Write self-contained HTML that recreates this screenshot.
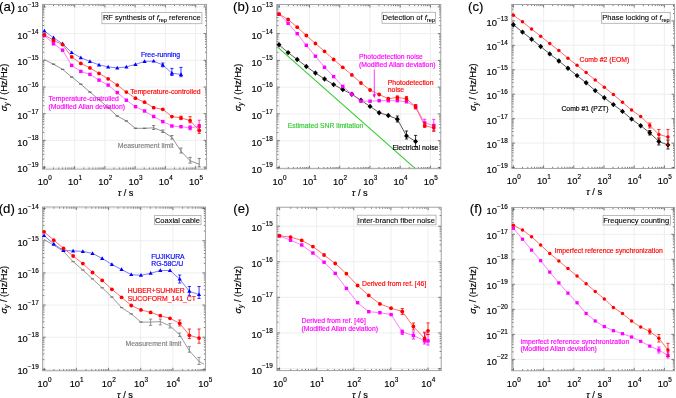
<!DOCTYPE html>
<html><head><meta charset="utf-8"><style>html,body{margin:0;padding:0;background:#fff;}svg{display:block;}</style></head>
<body><svg style="will-change:transform" width="676" height="398" viewBox="0 0 676 398">
<rect width="676" height="398" fill="#fff"/>
<path d="M44.4 4.4V169.1M74.65 4.4V169.1M104.9 4.4V169.1M135.15 4.4V169.1M165.4 4.4V169.1M195.65 4.4V169.1M42.6 167.1H206.6M42.6 140.4H206.6M42.6 113.7H206.6M42.6 87H206.6M42.6 60.3H206.6M42.6 33.6H206.6M42.6 6.9H206.6" stroke="#ececec" stroke-width="0.9" fill="none"/>
<path d="M43.02 169.1v-1.6M43.02 4.4v1.6M44.4 169.1v-3M44.4 4.4v3M53.51 169.1v-1.6M53.51 4.4v1.6M58.83 169.1v-1.6M58.83 4.4v1.6M62.61 169.1v-1.6M62.61 4.4v1.6M65.54 169.1v-1.6M65.54 4.4v1.6M67.94 169.1v-1.6M67.94 4.4v1.6M69.96 169.1v-1.6M69.96 4.4v1.6M71.72 169.1v-1.6M71.72 4.4v1.6M73.27 169.1v-1.6M73.27 4.4v1.6M74.65 169.1v-3M74.65 4.4v3M83.76 169.1v-1.6M83.76 4.4v1.6M89.08 169.1v-1.6M89.08 4.4v1.6M92.86 169.1v-1.6M92.86 4.4v1.6M95.79 169.1v-1.6M95.79 4.4v1.6M98.19 169.1v-1.6M98.19 4.4v1.6M100.21 169.1v-1.6M100.21 4.4v1.6M101.97 169.1v-1.6M101.97 4.4v1.6M103.52 169.1v-1.6M103.52 4.4v1.6M104.9 169.1v-3M104.9 4.4v3M114.01 169.1v-1.6M114.01 4.4v1.6M119.33 169.1v-1.6M119.33 4.4v1.6M123.11 169.1v-1.6M123.11 4.4v1.6M126.04 169.1v-1.6M126.04 4.4v1.6M128.44 169.1v-1.6M128.44 4.4v1.6M130.46 169.1v-1.6M130.46 4.4v1.6M132.22 169.1v-1.6M132.22 4.4v1.6M133.77 169.1v-1.6M133.77 4.4v1.6M135.15 169.1v-3M135.15 4.4v3M144.26 169.1v-1.6M144.26 4.4v1.6M149.58 169.1v-1.6M149.58 4.4v1.6M153.36 169.1v-1.6M153.36 4.4v1.6M156.29 169.1v-1.6M156.29 4.4v1.6M158.69 169.1v-1.6M158.69 4.4v1.6M160.71 169.1v-1.6M160.71 4.4v1.6M162.47 169.1v-1.6M162.47 4.4v1.6M164.02 169.1v-1.6M164.02 4.4v1.6M165.4 169.1v-3M165.4 4.4v3M174.51 169.1v-1.6M174.51 4.4v1.6M179.83 169.1v-1.6M179.83 4.4v1.6M183.61 169.1v-1.6M183.61 4.4v1.6M186.54 169.1v-1.6M186.54 4.4v1.6M188.94 169.1v-1.6M188.94 4.4v1.6M190.96 169.1v-1.6M190.96 4.4v1.6M192.72 169.1v-1.6M192.72 4.4v1.6M194.27 169.1v-1.6M194.27 4.4v1.6M195.65 169.1v-3M195.65 4.4v3M204.76 169.1v-1.6M204.76 4.4v1.6M42.6 168.32h1.6M206.6 168.32h-1.6M42.6 167.1h3M206.6 167.1h-3M42.6 159.06h1.6M206.6 159.06h-1.6M42.6 154.36h1.6M206.6 154.36h-1.6M42.6 151.02h1.6M206.6 151.02h-1.6M42.6 148.44h1.6M206.6 148.44h-1.6M42.6 146.32h1.6M206.6 146.32h-1.6M42.6 144.54h1.6M206.6 144.54h-1.6M42.6 142.99h1.6M206.6 142.99h-1.6M42.6 141.62h1.6M206.6 141.62h-1.6M42.6 140.4h3M206.6 140.4h-3M42.6 132.36h1.6M206.6 132.36h-1.6M42.6 127.66h1.6M206.6 127.66h-1.6M42.6 124.32h1.6M206.6 124.32h-1.6M42.6 121.74h1.6M206.6 121.74h-1.6M42.6 119.62h1.6M206.6 119.62h-1.6M42.6 117.84h1.6M206.6 117.84h-1.6M42.6 116.29h1.6M206.6 116.29h-1.6M42.6 114.92h1.6M206.6 114.92h-1.6M42.6 113.7h3M206.6 113.7h-3M42.6 105.66h1.6M206.6 105.66h-1.6M42.6 100.96h1.6M206.6 100.96h-1.6M42.6 97.62h1.6M206.6 97.62h-1.6M42.6 95.04h1.6M206.6 95.04h-1.6M42.6 92.92h1.6M206.6 92.92h-1.6M42.6 91.14h1.6M206.6 91.14h-1.6M42.6 89.59h1.6M206.6 89.59h-1.6M42.6 88.22h1.6M206.6 88.22h-1.6M42.6 87h3M206.6 87h-3M42.6 78.96h1.6M206.6 78.96h-1.6M42.6 74.26h1.6M206.6 74.26h-1.6M42.6 70.92h1.6M206.6 70.92h-1.6M42.6 68.34h1.6M206.6 68.34h-1.6M42.6 66.22h1.6M206.6 66.22h-1.6M42.6 64.44h1.6M206.6 64.44h-1.6M42.6 62.89h1.6M206.6 62.89h-1.6M42.6 61.52h1.6M206.6 61.52h-1.6M42.6 60.3h3M206.6 60.3h-3M42.6 52.26h1.6M206.6 52.26h-1.6M42.6 47.56h1.6M206.6 47.56h-1.6M42.6 44.22h1.6M206.6 44.22h-1.6M42.6 41.64h1.6M206.6 41.64h-1.6M42.6 39.52h1.6M206.6 39.52h-1.6M42.6 37.74h1.6M206.6 37.74h-1.6M42.6 36.19h1.6M206.6 36.19h-1.6M42.6 34.82h1.6M206.6 34.82h-1.6M42.6 33.6h3M206.6 33.6h-3M42.6 25.56h1.6M206.6 25.56h-1.6M42.6 20.86h1.6M206.6 20.86h-1.6M42.6 17.52h1.6M206.6 17.52h-1.6M42.6 14.94h1.6M206.6 14.94h-1.6M42.6 12.82h1.6M206.6 12.82h-1.6M42.6 11.04h1.6M206.6 11.04h-1.6M42.6 9.49h1.6M206.6 9.49h-1.6M42.6 8.12h1.6M206.6 8.12h-1.6M42.6 6.9h3M206.6 6.9h-3" stroke="#444" stroke-width="0.7" fill="none"/>
<rect x="42.6" y="4.4" width="164" height="164.7" fill="none" stroke="#999" stroke-width="0.9"/>
<text x="38.6" y="12" font-family="Liberation Sans, sans-serif" font-size="9.4" text-anchor="end" fill="#000" stroke="#000" stroke-width="0.15">10<tspan dy="-5.1" font-size="6.4">&#8722;13</tspan></text>
<text x="38.6" y="38.7" font-family="Liberation Sans, sans-serif" font-size="9.4" text-anchor="end" fill="#000" stroke="#000" stroke-width="0.15">10<tspan dy="-5.1" font-size="6.4">&#8722;14</tspan></text>
<text x="38.6" y="65.4" font-family="Liberation Sans, sans-serif" font-size="9.4" text-anchor="end" fill="#000" stroke="#000" stroke-width="0.15">10<tspan dy="-5.1" font-size="6.4">&#8722;15</tspan></text>
<text x="38.6" y="92.1" font-family="Liberation Sans, sans-serif" font-size="9.4" text-anchor="end" fill="#000" stroke="#000" stroke-width="0.15">10<tspan dy="-5.1" font-size="6.4">&#8722;16</tspan></text>
<text x="38.6" y="118.8" font-family="Liberation Sans, sans-serif" font-size="9.4" text-anchor="end" fill="#000" stroke="#000" stroke-width="0.15">10<tspan dy="-5.1" font-size="6.4">&#8722;17</tspan></text>
<text x="38.6" y="145.5" font-family="Liberation Sans, sans-serif" font-size="9.4" text-anchor="end" fill="#000" stroke="#000" stroke-width="0.15">10<tspan dy="-5.1" font-size="6.4">&#8722;18</tspan></text>
<text x="38.6" y="172.2" font-family="Liberation Sans, sans-serif" font-size="9.4" text-anchor="end" fill="#000" stroke="#000" stroke-width="0.15">10<tspan dy="-5.1" font-size="6.4">&#8722;19</tspan></text>
<text x="37.7" y="185.1" font-family="Liberation Sans, sans-serif" font-size="9.4" fill="#000" stroke="#000" stroke-width="0.15">10<tspan dy="-5.0" font-size="6.4">0</tspan></text>
<text x="67.95" y="185.1" font-family="Liberation Sans, sans-serif" font-size="9.4" fill="#000" stroke="#000" stroke-width="0.15">10<tspan dy="-5.0" font-size="6.4">1</tspan></text>
<text x="98.2" y="185.1" font-family="Liberation Sans, sans-serif" font-size="9.4" fill="#000" stroke="#000" stroke-width="0.15">10<tspan dy="-5.0" font-size="6.4">2</tspan></text>
<text x="128.45" y="185.1" font-family="Liberation Sans, sans-serif" font-size="9.4" fill="#000" stroke="#000" stroke-width="0.15">10<tspan dy="-5.0" font-size="6.4">3</tspan></text>
<text x="158.7" y="185.1" font-family="Liberation Sans, sans-serif" font-size="9.4" fill="#000" stroke="#000" stroke-width="0.15">10<tspan dy="-5.0" font-size="6.4">4</tspan></text>
<text x="188.95" y="185.1" font-family="Liberation Sans, sans-serif" font-size="9.4" fill="#000" stroke="#000" stroke-width="0.15">10<tspan dy="-5.0" font-size="6.4">5</tspan></text>
<text x="125.6" y="196.1" font-family="Liberation Sans, sans-serif" font-size="9.3" text-anchor="middle" fill="#000" stroke="#000" stroke-width="0.18"><tspan font-style="italic">&#964;</tspan> / s</text>
<text transform="translate(6.8 87.55) rotate(-90)" font-family="Liberation Sans, sans-serif" font-size="9.2" text-anchor="middle" fill="#000" stroke="#000" stroke-width="0.18"><tspan font-style="italic">&#963;</tspan><tspan font-size="6.6" dy="2.4" font-style="italic">y</tspan><tspan dy="-2.4"> / (Hz/Hz)</tspan></text>
<text x="-1" y="10.8" font-family="Liberation Sans, sans-serif" font-size="13.2" fill="#000" stroke="#000" stroke-width="0.15">(a)</text>
<path d="M44.4 59.6 L53.51 64.2 L62.61 69.4 L71.72 77 L80.82 84.2 L89.93 92.1 L99.04 99.7 L108.14 107.7 L117.25 116 L126.36 121 L135.46 128.3 L144.57 128.3 L153.67 127.8 L162.78 131.3 L171.89 137.4 L180.99 151.2 L190.1 160.8 L199.2 164.2" stroke="#777" stroke-width="0.8" fill="none"/>
<path d="M53.51 64.2V64.2M51.91 64.2h3.2M51.91 64.2h3.2M62.61 69.4V69.4M61.01 69.4h3.2M61.01 69.4h3.2M71.72 77V77M70.12 77h3.2M70.12 77h3.2M80.82 84.2V84.2M79.22 84.2h3.2M79.22 84.2h3.2M89.93 92.1V92.1M88.33 92.1h3.2M88.33 92.1h3.2M99.04 99.7V99.7M97.44 99.7h3.2M97.44 99.7h3.2M108.14 107.7V107.7M106.54 107.7h3.2M106.54 107.7h3.2M117.25 116V116M115.65 116h3.2M115.65 116h3.2M126.36 121V121M124.76 121h3.2M124.76 121h3.2M135.46 128.3V128.3M133.86 128.3h3.2M133.86 128.3h3.2M144.57 128.3V128.3M142.97 128.3h3.2M142.97 128.3h3.2M153.67 125.5V129.5M152.07 125.5h3.2M152.07 129.5h3.2M162.78 130V132.5M161.18 130h3.2M161.18 132.5h3.2M171.89 135.5V139M170.29 135.5h3.2M170.29 139h3.2M180.99 148V153M179.39 148h3.2M179.39 153h3.2M190.1 157.4V163.1M188.5 157.4h3.2M188.5 163.1h3.2M199.2 158.4V166.9M197.6 158.4h3.2M197.6 166.9h3.2" stroke="#666" stroke-width="0.8" fill="none"/>
<path d="M44.4 35.5 L53.51 43.8 L62.61 50.2 L71.72 65.4 L80.82 71.4 L89.93 74.4 L99.04 80.1 L108.14 85.1 L117.25 92.6 L126.36 100.2 L135.46 106.7 L144.57 111 L153.67 116.5 L162.78 121.6 L171.89 126 L180.99 126.7 L190.1 127.8 L199.2 126.3" stroke="#ff5cff" stroke-width="0.8" fill="none"/>
<path d="M190.1 125.8V129.8M188.5 125.8h3.2M188.5 129.8h3.2M199.2 120.2V131.6M197.6 120.2h3.2M197.6 131.6h3.2" stroke="#ff00ff" stroke-width="0.8" fill="none"/>
<g fill="#ff00ff"><rect x="42.69" y="33.79" width="3.42" height="3.42"/><rect x="51.8" y="42.09" width="3.42" height="3.42"/><rect x="60.9" y="48.49" width="3.42" height="3.42"/><rect x="70.01" y="63.69" width="3.42" height="3.42"/><rect x="79.11" y="69.69" width="3.42" height="3.42"/><rect x="88.22" y="72.69" width="3.42" height="3.42"/><rect x="97.33" y="78.39" width="3.42" height="3.42"/><rect x="106.43" y="83.39" width="3.42" height="3.42"/><rect x="115.54" y="90.89" width="3.42" height="3.42"/><rect x="124.65" y="98.49" width="3.42" height="3.42"/><rect x="133.75" y="104.99" width="3.42" height="3.42"/><rect x="142.86" y="109.29" width="3.42" height="3.42"/><rect x="151.96" y="114.79" width="3.42" height="3.42"/><rect x="161.07" y="119.89" width="3.42" height="3.42"/><rect x="170.18" y="124.29" width="3.42" height="3.42"/><rect x="179.28" y="124.99" width="3.42" height="3.42"/><rect x="188.39" y="126.09" width="3.42" height="3.42"/><rect x="197.49" y="124.59" width="3.42" height="3.42"/></g>
<path d="M44.4 31 L53.51 37.8 L62.61 43.8 L71.72 52.6 L80.82 57.7 L89.93 61.4 L99.04 64.9 L108.14 66.9 L117.25 67.9 L126.36 66.9 L135.46 64.4 L144.57 61.4 L153.67 61.1 L162.78 64.9 L171.89 73.2 L180.99 74.4" stroke="#5c5cff" stroke-width="0.8" fill="none"/>
<path d="M162.78 63V66.8M161.18 63h3.2M161.18 66.8h3.2M171.89 68.4V75.5M170.29 68.4h3.2M170.29 75.5h3.2M180.99 67.4V76.7M179.39 67.4h3.2M179.39 76.7h3.2" stroke="#0000ff" stroke-width="0.8" fill="none"/>
<g fill="#0000ff"><path d="M44.4 28.81L46.5 32.49H42.3Z"/><path d="M53.51 35.61L55.61 39.29H51.41Z"/><path d="M62.61 41.61L64.71 45.29H60.51Z"/><path d="M71.72 50.41L73.82 54.09H69.62Z"/><path d="M80.82 55.51L82.92 59.19H78.72Z"/><path d="M89.93 59.21L92.03 62.89H87.83Z"/><path d="M99.04 62.71L101.14 66.39H96.94Z"/><path d="M108.14 64.71L110.24 68.39H106.04Z"/><path d="M117.25 65.71L119.35 69.39H115.15Z"/><path d="M126.36 64.71L128.46 68.39H124.26Z"/><path d="M135.46 62.21L137.56 65.89H133.36Z"/><path d="M144.57 59.21L146.67 62.89H142.47Z"/><path d="M153.67 58.91L155.77 62.59H151.57Z"/><path d="M162.78 62.71L164.88 66.39H160.68Z"/><path d="M171.89 71.01L173.99 74.69H169.79Z"/><path d="M180.99 72.21L183.09 75.89H178.89Z"/></g>
<path d="M44.4 34.8 L53.51 40.4 L62.61 44.6 L71.72 56.9 L80.82 63.4 L89.93 67.9 L99.04 73.4 L108.14 78.8 L117.25 85.1 L126.36 92.1 L135.46 98.2 L144.57 102.2 L153.67 107.7 L162.78 109.3 L171.89 116.6 L180.99 117.9 L190.1 120.6 L199.2 130.3" stroke="#ff4a4a" stroke-width="0.8" fill="none"/>
<path d="M180.99 116.2V119.6M179.39 116.2h3.2M179.39 119.6h3.2M190.1 116.7V122.8M188.5 116.7h3.2M188.5 122.8h3.2M199.2 124.6V133.4M197.6 124.6h3.2M197.6 133.4h3.2" stroke="#ff0000" stroke-width="0.8" fill="none"/>
<g fill="#ff0000"><circle cx="44.4" cy="34.8" r="1.89"/><circle cx="53.51" cy="40.4" r="1.89"/><circle cx="62.61" cy="44.6" r="1.89"/><circle cx="71.72" cy="56.9" r="1.89"/><circle cx="80.82" cy="63.4" r="1.89"/><circle cx="89.93" cy="67.9" r="1.89"/><circle cx="99.04" cy="73.4" r="1.89"/><circle cx="108.14" cy="78.8" r="1.89"/><circle cx="117.25" cy="85.1" r="1.89"/><circle cx="126.36" cy="92.1" r="1.89"/><circle cx="135.46" cy="98.2" r="1.89"/><circle cx="144.57" cy="102.2" r="1.89"/><circle cx="153.67" cy="107.7" r="1.89"/><circle cx="162.78" cy="109.3" r="1.89"/><circle cx="171.89" cy="116.6" r="1.89"/><circle cx="180.99" cy="117.9" r="1.89"/><circle cx="190.1" cy="120.6" r="1.89"/><circle cx="199.2" cy="130.3" r="1.89"/></g>
<rect x="101.9" y="12.4" width="100" height="11.3" fill="#fff" stroke="#aaa" stroke-width="0.8"/>
<text x="102.9" y="20.2" font-family="Liberation Sans, sans-serif" font-size="7.5" fill="#000" stroke="#000" stroke-width="0.1">RF synthesis of <tspan font-style="italic">f</tspan><tspan font-size="5.6" dy="2" stroke-width="0.08">rep</tspan><tspan dy="-2"> reference</tspan></text>
<text x="140.9" y="57.4" font-family="Liberation Sans, sans-serif" font-size="6.85" fill="#0000ff" stroke="#0000ff" stroke-width="0.16" text-anchor="start">Free-running</text>
<text x="130.2" y="93.5" font-family="Liberation Sans, sans-serif" font-size="6.85" fill="#ff0000" stroke="#ff0000" stroke-width="0.16" text-anchor="start">Temperature-controlled</text>
<text x="48.5" y="101.4" font-family="Liberation Sans, sans-serif" font-size="6.85" fill="#ff00ff" stroke="#ff00ff" stroke-width="0.16" text-anchor="start">Temperature-controlled</text>
<text x="48.5" y="108.6" font-family="Liberation Sans, sans-serif" font-size="6.85" fill="#ff00ff" stroke="#ff00ff" stroke-width="0.16" text-anchor="start">(Modified Allan deviation)</text>
<text x="117.7" y="148.1" font-family="Liberation Sans, sans-serif" font-size="6.85" fill="#808080" stroke="#808080" stroke-width="0.16" text-anchor="start">Measurement limit</text>
<path d="M279.2 4.5V168.7M309.45 4.5V168.7M339.7 4.5V168.7M369.95 4.5V168.7M400.2 4.5V168.7M430.45 4.5V168.7M276.8 167.4H440.8M276.8 140.65H440.8M276.8 113.9H440.8M276.8 87.15H440.8M276.8 60.4H440.8M276.8 33.65H440.8M276.8 6.9H440.8" stroke="#ececec" stroke-width="0.9" fill="none"/>
<path d="M277.82 168.7v-1.6M277.82 4.5v1.6M279.2 168.7v-3M279.2 4.5v3M288.31 168.7v-1.6M288.31 4.5v1.6M293.63 168.7v-1.6M293.63 4.5v1.6M297.41 168.7v-1.6M297.41 4.5v1.6M300.34 168.7v-1.6M300.34 4.5v1.6M302.74 168.7v-1.6M302.74 4.5v1.6M304.76 168.7v-1.6M304.76 4.5v1.6M306.52 168.7v-1.6M306.52 4.5v1.6M308.07 168.7v-1.6M308.07 4.5v1.6M309.45 168.7v-3M309.45 4.5v3M318.56 168.7v-1.6M318.56 4.5v1.6M323.88 168.7v-1.6M323.88 4.5v1.6M327.66 168.7v-1.6M327.66 4.5v1.6M330.59 168.7v-1.6M330.59 4.5v1.6M332.99 168.7v-1.6M332.99 4.5v1.6M335.01 168.7v-1.6M335.01 4.5v1.6M336.77 168.7v-1.6M336.77 4.5v1.6M338.32 168.7v-1.6M338.32 4.5v1.6M339.7 168.7v-3M339.7 4.5v3M348.81 168.7v-1.6M348.81 4.5v1.6M354.13 168.7v-1.6M354.13 4.5v1.6M357.91 168.7v-1.6M357.91 4.5v1.6M360.84 168.7v-1.6M360.84 4.5v1.6M363.24 168.7v-1.6M363.24 4.5v1.6M365.26 168.7v-1.6M365.26 4.5v1.6M367.02 168.7v-1.6M367.02 4.5v1.6M368.57 168.7v-1.6M368.57 4.5v1.6M369.95 168.7v-3M369.95 4.5v3M379.06 168.7v-1.6M379.06 4.5v1.6M384.38 168.7v-1.6M384.38 4.5v1.6M388.16 168.7v-1.6M388.16 4.5v1.6M391.09 168.7v-1.6M391.09 4.5v1.6M393.49 168.7v-1.6M393.49 4.5v1.6M395.51 168.7v-1.6M395.51 4.5v1.6M397.27 168.7v-1.6M397.27 4.5v1.6M398.82 168.7v-1.6M398.82 4.5v1.6M400.2 168.7v-3M400.2 4.5v3M409.31 168.7v-1.6M409.31 4.5v1.6M414.63 168.7v-1.6M414.63 4.5v1.6M418.41 168.7v-1.6M418.41 4.5v1.6M421.34 168.7v-1.6M421.34 4.5v1.6M423.74 168.7v-1.6M423.74 4.5v1.6M425.76 168.7v-1.6M425.76 4.5v1.6M427.52 168.7v-1.6M427.52 4.5v1.6M429.07 168.7v-1.6M429.07 4.5v1.6M430.45 168.7v-3M430.45 4.5v3M439.56 168.7v-1.6M439.56 4.5v1.6M276.8 168.62h1.6M440.8 168.62h-1.6M276.8 167.4h3M440.8 167.4h-3M276.8 159.35h1.6M440.8 159.35h-1.6M276.8 154.64h1.6M440.8 154.64h-1.6M276.8 151.29h1.6M440.8 151.29h-1.6M276.8 148.7h1.6M440.8 148.7h-1.6M276.8 146.58h1.6M440.8 146.58h-1.6M276.8 144.79h1.6M440.8 144.79h-1.6M276.8 143.24h1.6M440.8 143.24h-1.6M276.8 141.87h1.6M440.8 141.87h-1.6M276.8 140.65h3M440.8 140.65h-3M276.8 132.6h1.6M440.8 132.6h-1.6M276.8 127.89h1.6M440.8 127.89h-1.6M276.8 124.54h1.6M440.8 124.54h-1.6M276.8 121.95h1.6M440.8 121.95h-1.6M276.8 119.83h1.6M440.8 119.83h-1.6M276.8 118.04h1.6M440.8 118.04h-1.6M276.8 116.49h1.6M440.8 116.49h-1.6M276.8 115.12h1.6M440.8 115.12h-1.6M276.8 113.9h3M440.8 113.9h-3M276.8 105.85h1.6M440.8 105.85h-1.6M276.8 101.14h1.6M440.8 101.14h-1.6M276.8 97.79h1.6M440.8 97.79h-1.6M276.8 95.2h1.6M440.8 95.2h-1.6M276.8 93.08h1.6M440.8 93.08h-1.6M276.8 91.29h1.6M440.8 91.29h-1.6M276.8 89.74h1.6M440.8 89.74h-1.6M276.8 88.37h1.6M440.8 88.37h-1.6M276.8 87.15h3M440.8 87.15h-3M276.8 79.1h1.6M440.8 79.1h-1.6M276.8 74.39h1.6M440.8 74.39h-1.6M276.8 71.04h1.6M440.8 71.04h-1.6M276.8 68.45h1.6M440.8 68.45h-1.6M276.8 66.33h1.6M440.8 66.33h-1.6M276.8 64.54h1.6M440.8 64.54h-1.6M276.8 62.99h1.6M440.8 62.99h-1.6M276.8 61.62h1.6M440.8 61.62h-1.6M276.8 60.4h3M440.8 60.4h-3M276.8 52.35h1.6M440.8 52.35h-1.6M276.8 47.64h1.6M440.8 47.64h-1.6M276.8 44.29h1.6M440.8 44.29h-1.6M276.8 41.7h1.6M440.8 41.7h-1.6M276.8 39.58h1.6M440.8 39.58h-1.6M276.8 37.79h1.6M440.8 37.79h-1.6M276.8 36.24h1.6M440.8 36.24h-1.6M276.8 34.87h1.6M440.8 34.87h-1.6M276.8 33.65h3M440.8 33.65h-3M276.8 25.6h1.6M440.8 25.6h-1.6M276.8 20.89h1.6M440.8 20.89h-1.6M276.8 17.54h1.6M440.8 17.54h-1.6M276.8 14.95h1.6M440.8 14.95h-1.6M276.8 12.83h1.6M440.8 12.83h-1.6M276.8 11.04h1.6M440.8 11.04h-1.6M276.8 9.49h1.6M440.8 9.49h-1.6M276.8 8.12h1.6M440.8 8.12h-1.6M276.8 6.9h3M440.8 6.9h-3" stroke="#444" stroke-width="0.7" fill="none"/>
<rect x="276.8" y="4.5" width="164" height="164.2" fill="none" stroke="#999" stroke-width="0.9"/>
<text x="272.8" y="12" font-family="Liberation Sans, sans-serif" font-size="9.4" text-anchor="end" fill="#000" stroke="#000" stroke-width="0.15">10<tspan dy="-5.1" font-size="6.4">&#8722;13</tspan></text>
<text x="272.8" y="38.75" font-family="Liberation Sans, sans-serif" font-size="9.4" text-anchor="end" fill="#000" stroke="#000" stroke-width="0.15">10<tspan dy="-5.1" font-size="6.4">&#8722;14</tspan></text>
<text x="272.8" y="65.5" font-family="Liberation Sans, sans-serif" font-size="9.4" text-anchor="end" fill="#000" stroke="#000" stroke-width="0.15">10<tspan dy="-5.1" font-size="6.4">&#8722;15</tspan></text>
<text x="272.8" y="92.25" font-family="Liberation Sans, sans-serif" font-size="9.4" text-anchor="end" fill="#000" stroke="#000" stroke-width="0.15">10<tspan dy="-5.1" font-size="6.4">&#8722;16</tspan></text>
<text x="272.8" y="119" font-family="Liberation Sans, sans-serif" font-size="9.4" text-anchor="end" fill="#000" stroke="#000" stroke-width="0.15">10<tspan dy="-5.1" font-size="6.4">&#8722;17</tspan></text>
<text x="272.8" y="145.75" font-family="Liberation Sans, sans-serif" font-size="9.4" text-anchor="end" fill="#000" stroke="#000" stroke-width="0.15">10<tspan dy="-5.1" font-size="6.4">&#8722;18</tspan></text>
<text x="272.8" y="172.5" font-family="Liberation Sans, sans-serif" font-size="9.4" text-anchor="end" fill="#000" stroke="#000" stroke-width="0.15">10<tspan dy="-5.1" font-size="6.4">&#8722;19</tspan></text>
<text x="272.5" y="184.7" font-family="Liberation Sans, sans-serif" font-size="9.4" fill="#000" stroke="#000" stroke-width="0.15">10<tspan dy="-5.0" font-size="6.4">0</tspan></text>
<text x="302.75" y="184.7" font-family="Liberation Sans, sans-serif" font-size="9.4" fill="#000" stroke="#000" stroke-width="0.15">10<tspan dy="-5.0" font-size="6.4">1</tspan></text>
<text x="333" y="184.7" font-family="Liberation Sans, sans-serif" font-size="9.4" fill="#000" stroke="#000" stroke-width="0.15">10<tspan dy="-5.0" font-size="6.4">2</tspan></text>
<text x="363.25" y="184.7" font-family="Liberation Sans, sans-serif" font-size="9.4" fill="#000" stroke="#000" stroke-width="0.15">10<tspan dy="-5.0" font-size="6.4">3</tspan></text>
<text x="393.5" y="184.7" font-family="Liberation Sans, sans-serif" font-size="9.4" fill="#000" stroke="#000" stroke-width="0.15">10<tspan dy="-5.0" font-size="6.4">4</tspan></text>
<text x="423.75" y="184.7" font-family="Liberation Sans, sans-serif" font-size="9.4" fill="#000" stroke="#000" stroke-width="0.15">10<tspan dy="-5.0" font-size="6.4">5</tspan></text>
<text x="359.8" y="195.7" font-family="Liberation Sans, sans-serif" font-size="9.3" text-anchor="middle" fill="#000" stroke="#000" stroke-width="0.18"><tspan font-style="italic">&#964;</tspan> / s</text>
<text transform="translate(240.5 87.4) rotate(-90)" font-family="Liberation Sans, sans-serif" font-size="9.2" text-anchor="middle" fill="#000" stroke="#000" stroke-width="0.18"><tspan font-style="italic">&#963;</tspan><tspan font-size="6.6" dy="2.4" font-style="italic">y</tspan><tspan dy="-2.4"> / (Hz/Hz)</tspan></text>
<text x="233" y="10.8" font-family="Liberation Sans, sans-serif" font-size="13.2" fill="#000" stroke="#000" stroke-width="0.15">(b)</text>
<path d="M278.5 47.9L413.9 167.4" stroke="#33cc33" stroke-width="1.1" fill="none"/>
<path d="M279 44.8 L288.11 52.6 L297.21 59.5 L306.32 66.5 L315.42 73 L324.53 79 L333.64 84.6 L342.74 89.6 L351.85 94.2 L360.96 100.3 L370.06 106.4 L379.17 112.7 L388.27 115.5 L397.38 119.2 L406.49 135.9 L415.59 141.4" stroke="#333" stroke-width="0.8" fill="none"/>
<path d="M397.38 116V122M395.78 116h3.2M395.78 122h3.2M406.49 131V139M404.89 131h3.2M404.89 139h3.2M415.59 135.4V146.5M413.99 135.4h3.2M413.99 146.5h3.2" stroke="#000000" stroke-width="0.8" fill="none"/>
<g fill="#000000"><path d="M279 42.1L281.48 44.8L279 47.5L276.52 44.8Z"/><path d="M288.11 49.9L290.58 52.6L288.11 55.3L285.63 52.6Z"/><path d="M297.21 56.8L299.69 59.5L297.21 62.2L294.74 59.5Z"/><path d="M306.32 63.8L308.79 66.5L306.32 69.2L303.84 66.5Z"/><path d="M315.42 70.3L317.9 73L315.42 75.7L312.95 73Z"/><path d="M324.53 76.3L327.01 79L324.53 81.7L322.06 79Z"/><path d="M333.64 81.9L336.11 84.6L333.64 87.3L331.16 84.6Z"/><path d="M342.74 86.9L345.22 89.6L342.74 92.3L340.27 89.6Z"/><path d="M351.85 91.5L354.32 94.2L351.85 96.9L349.37 94.2Z"/><path d="M360.96 97.6L363.43 100.3L360.96 103L358.48 100.3Z"/><path d="M370.06 103.7L372.54 106.4L370.06 109.1L367.59 106.4Z"/><path d="M379.17 110L381.64 112.7L379.17 115.4L376.69 112.7Z"/><path d="M388.27 112.8L390.75 115.5L388.27 118.2L385.8 115.5Z"/><path d="M397.38 116.5L399.86 119.2L397.38 121.9L394.91 119.2Z"/><path d="M406.49 133.2L408.96 135.9L406.49 138.6L404.01 135.9Z"/><path d="M415.59 138.7L418.07 141.4L415.59 144.1L413.12 141.4Z"/></g>
<path d="M279 14.2 L288.11 23.3 L297.21 33.7 L306.32 45.3 L315.42 56.2 L324.53 67.3 L333.64 76.6 L342.74 86.4 L351.85 94.2 L360.96 101.2 L370.06 101.2 L379.17 100.7 L388.27 100.7 L397.38 100.7 L406.49 101.8 L415.59 106.7 L424.7 123 L433.8 125.5" stroke="#ff5cff" stroke-width="0.8" fill="none"/>
<path d="M415.59 104.5V108.5M413.99 104.5h3.2M413.99 108.5h3.2M424.7 119.3V125M423.1 119.3h3.2M423.1 125h3.2M433.8 119.3V130.6M432.2 119.3h3.2M432.2 130.6h3.2" stroke="#ff00ff" stroke-width="0.8" fill="none"/>
<g fill="#ff00ff"><rect x="277.29" y="12.49" width="3.42" height="3.42"/><rect x="286.4" y="21.59" width="3.42" height="3.42"/><rect x="295.5" y="31.99" width="3.42" height="3.42"/><rect x="304.61" y="43.59" width="3.42" height="3.42"/><rect x="313.71" y="54.49" width="3.42" height="3.42"/><rect x="322.82" y="65.59" width="3.42" height="3.42"/><rect x="331.93" y="74.89" width="3.42" height="3.42"/><rect x="341.03" y="84.69" width="3.42" height="3.42"/><rect x="350.14" y="92.49" width="3.42" height="3.42"/><rect x="359.25" y="99.49" width="3.42" height="3.42"/><rect x="368.35" y="99.49" width="3.42" height="3.42"/><rect x="377.46" y="98.99" width="3.42" height="3.42"/><rect x="386.56" y="98.99" width="3.42" height="3.42"/><rect x="395.67" y="98.99" width="3.42" height="3.42"/><rect x="404.78" y="100.09" width="3.42" height="3.42"/><rect x="413.88" y="104.99" width="3.42" height="3.42"/><rect x="422.99" y="121.29" width="3.42" height="3.42"/><rect x="432.09" y="123.79" width="3.42" height="3.42"/></g>
<path d="M279 14.2 L288.11 19.4 L297.21 27.2 L306.32 35.5 L315.42 43.5 L324.53 51.3 L333.64 59.5 L342.74 67.3 L351.85 74.9 L360.96 83 L370.06 90 L379.17 94.5 L388.27 98.7 L397.38 97.5 L406.49 98.7 L415.59 106.9 L424.7 125.8 L433.8 127.8" stroke="#ff4a4a" stroke-width="0.8" fill="none"/>
<path d="M397.38 96V99.5M395.78 96h3.2M395.78 99.5h3.2M406.49 96.5V101M404.89 96.5h3.2M404.89 101h3.2M415.59 104.5V109M413.99 104.5h3.2M413.99 109h3.2M424.7 122.5V127.4M423.1 122.5h3.2M423.1 127.4h3.2M433.8 125V131.4M432.2 125h3.2M432.2 131.4h3.2" stroke="#ff0000" stroke-width="0.8" fill="none"/>
<g fill="#ff0000"><circle cx="279" cy="14.2" r="1.89"/><circle cx="288.11" cy="19.4" r="1.89"/><circle cx="297.21" cy="27.2" r="1.89"/><circle cx="306.32" cy="35.5" r="1.89"/><circle cx="315.42" cy="43.5" r="1.89"/><circle cx="324.53" cy="51.3" r="1.89"/><circle cx="333.64" cy="59.5" r="1.89"/><circle cx="342.74" cy="67.3" r="1.89"/><circle cx="351.85" cy="74.9" r="1.89"/><circle cx="360.96" cy="83" r="1.89"/><circle cx="370.06" cy="90" r="1.89"/><circle cx="379.17" cy="94.5" r="1.89"/><circle cx="388.27" cy="98.7" r="1.89"/><circle cx="397.38" cy="97.5" r="1.89"/><circle cx="406.49" cy="98.7" r="1.89"/><circle cx="415.59" cy="106.9" r="1.89"/><circle cx="424.7" cy="125.8" r="1.89"/><circle cx="433.8" cy="127.8" r="1.89"/></g>
<path d="M374.3 69.5V96" stroke="#ff00ff" stroke-width="0.8"/><path d="M372.6 94.2L374.3 98.2L376 94.2Z" fill="#ff00ff"/>
<rect x="382" y="12.3" width="53.6" height="11" fill="#fff" stroke="#aaa" stroke-width="0.8"/>
<text x="382.6" y="20" font-family="Liberation Sans, sans-serif" font-size="7.5" fill="#000" stroke="#000" stroke-width="0.1">Detection of <tspan font-style="italic">f</tspan><tspan font-size="5.6" dy="2" stroke-width="0.08">rep</tspan></text>
<text x="359" y="59.2" font-family="Liberation Sans, sans-serif" font-size="6.85" fill="#ff00ff" stroke="#ff00ff" stroke-width="0.16" text-anchor="start">Photodetection noise</text>
<text x="359" y="66.8" font-family="Liberation Sans, sans-serif" font-size="6.85" fill="#ff00ff" stroke="#ff00ff" stroke-width="0.16" text-anchor="start">(Modified Allan deviation)</text>
<text x="387.8" y="85.2" font-family="Liberation Sans, sans-serif" font-size="6.85" fill="#ff0000" stroke="#ff0000" stroke-width="0.16" text-anchor="start">Photodetection</text>
<text x="387.8" y="92.4" font-family="Liberation Sans, sans-serif" font-size="6.85" fill="#ff0000" stroke="#ff0000" stroke-width="0.16" text-anchor="start">noise</text>
<text x="287.7" y="127.6" font-family="Liberation Sans, sans-serif" font-size="6.85" fill="#33cc33" stroke="#33cc33" stroke-width="0.16" text-anchor="start">Estimated SNR limitation</text>
<text x="392.4" y="149.8" font-family="Liberation Sans, sans-serif" font-size="6.85" fill="#000000" stroke="#000000" stroke-width="0.16" text-anchor="start">Electrical noise</text>
<path d="M513.4 4.5V168.4M543.6 4.5V168.4M573.8 4.5V168.4M604 4.5V168.4M634.2 4.5V168.4M664.4 4.5V168.4M511.9 143.1H674.6M511.9 118.66H674.6M511.9 94.22H674.6M511.9 69.78H674.6M511.9 45.34H674.6M511.9 20.9H674.6" stroke="#ececec" stroke-width="0.9" fill="none"/>
<path d="M512.02 168.4v-1.6M512.02 4.5v1.6M513.4 168.4v-3M513.4 4.5v3M522.49 168.4v-1.6M522.49 4.5v1.6M527.81 168.4v-1.6M527.81 4.5v1.6M531.58 168.4v-1.6M531.58 4.5v1.6M534.51 168.4v-1.6M534.51 4.5v1.6M536.9 168.4v-1.6M536.9 4.5v1.6M538.92 168.4v-1.6M538.92 4.5v1.6M540.67 168.4v-1.6M540.67 4.5v1.6M542.22 168.4v-1.6M542.22 4.5v1.6M543.6 168.4v-3M543.6 4.5v3M552.69 168.4v-1.6M552.69 4.5v1.6M558.01 168.4v-1.6M558.01 4.5v1.6M561.78 168.4v-1.6M561.78 4.5v1.6M564.71 168.4v-1.6M564.71 4.5v1.6M567.1 168.4v-1.6M567.1 4.5v1.6M569.12 168.4v-1.6M569.12 4.5v1.6M570.87 168.4v-1.6M570.87 4.5v1.6M572.42 168.4v-1.6M572.42 4.5v1.6M573.8 168.4v-3M573.8 4.5v3M582.89 168.4v-1.6M582.89 4.5v1.6M588.21 168.4v-1.6M588.21 4.5v1.6M591.98 168.4v-1.6M591.98 4.5v1.6M594.91 168.4v-1.6M594.91 4.5v1.6M597.3 168.4v-1.6M597.3 4.5v1.6M599.32 168.4v-1.6M599.32 4.5v1.6M601.07 168.4v-1.6M601.07 4.5v1.6M602.62 168.4v-1.6M602.62 4.5v1.6M604 168.4v-3M604 4.5v3M613.09 168.4v-1.6M613.09 4.5v1.6M618.41 168.4v-1.6M618.41 4.5v1.6M622.18 168.4v-1.6M622.18 4.5v1.6M625.11 168.4v-1.6M625.11 4.5v1.6M627.5 168.4v-1.6M627.5 4.5v1.6M629.52 168.4v-1.6M629.52 4.5v1.6M631.27 168.4v-1.6M631.27 4.5v1.6M632.82 168.4v-1.6M632.82 4.5v1.6M634.2 168.4v-3M634.2 4.5v3M643.29 168.4v-1.6M643.29 4.5v1.6M648.61 168.4v-1.6M648.61 4.5v1.6M652.38 168.4v-1.6M652.38 4.5v1.6M655.31 168.4v-1.6M655.31 4.5v1.6M657.7 168.4v-1.6M657.7 4.5v1.6M659.72 168.4v-1.6M659.72 4.5v1.6M661.47 168.4v-1.6M661.47 4.5v1.6M663.02 168.4v-1.6M663.02 4.5v1.6M664.4 168.4v-3M664.4 4.5v3M673.49 168.4v-1.6M673.49 4.5v1.6M511.9 167.54h3M674.6 167.54h-3M511.9 160.18h1.6M674.6 160.18h-1.6M511.9 155.88h1.6M674.6 155.88h-1.6M511.9 152.83h1.6M674.6 152.83h-1.6M511.9 150.46h1.6M674.6 150.46h-1.6M511.9 148.52h1.6M674.6 148.52h-1.6M511.9 146.89h1.6M674.6 146.89h-1.6M511.9 145.47h1.6M674.6 145.47h-1.6M511.9 144.22h1.6M674.6 144.22h-1.6M511.9 143.1h3M674.6 143.1h-3M511.9 135.74h1.6M674.6 135.74h-1.6M511.9 131.44h1.6M674.6 131.44h-1.6M511.9 128.39h1.6M674.6 128.39h-1.6M511.9 126.02h1.6M674.6 126.02h-1.6M511.9 124.08h1.6M674.6 124.08h-1.6M511.9 122.45h1.6M674.6 122.45h-1.6M511.9 121.03h1.6M674.6 121.03h-1.6M511.9 119.78h1.6M674.6 119.78h-1.6M511.9 118.66h3M674.6 118.66h-3M511.9 111.3h1.6M674.6 111.3h-1.6M511.9 107h1.6M674.6 107h-1.6M511.9 103.95h1.6M674.6 103.95h-1.6M511.9 101.58h1.6M674.6 101.58h-1.6M511.9 99.64h1.6M674.6 99.64h-1.6M511.9 98.01h1.6M674.6 98.01h-1.6M511.9 96.59h1.6M674.6 96.59h-1.6M511.9 95.34h1.6M674.6 95.34h-1.6M511.9 94.22h3M674.6 94.22h-3M511.9 86.86h1.6M674.6 86.86h-1.6M511.9 82.56h1.6M674.6 82.56h-1.6M511.9 79.51h1.6M674.6 79.51h-1.6M511.9 77.14h1.6M674.6 77.14h-1.6M511.9 75.2h1.6M674.6 75.2h-1.6M511.9 73.57h1.6M674.6 73.57h-1.6M511.9 72.15h1.6M674.6 72.15h-1.6M511.9 70.9h1.6M674.6 70.9h-1.6M511.9 69.78h3M674.6 69.78h-3M511.9 62.42h1.6M674.6 62.42h-1.6M511.9 58.12h1.6M674.6 58.12h-1.6M511.9 55.07h1.6M674.6 55.07h-1.6M511.9 52.7h1.6M674.6 52.7h-1.6M511.9 50.76h1.6M674.6 50.76h-1.6M511.9 49.13h1.6M674.6 49.13h-1.6M511.9 47.71h1.6M674.6 47.71h-1.6M511.9 46.46h1.6M674.6 46.46h-1.6M511.9 45.34h3M674.6 45.34h-3M511.9 37.98h1.6M674.6 37.98h-1.6M511.9 33.68h1.6M674.6 33.68h-1.6M511.9 30.63h1.6M674.6 30.63h-1.6M511.9 28.26h1.6M674.6 28.26h-1.6M511.9 26.32h1.6M674.6 26.32h-1.6M511.9 24.69h1.6M674.6 24.69h-1.6M511.9 23.27h1.6M674.6 23.27h-1.6M511.9 22.02h1.6M674.6 22.02h-1.6M511.9 20.9h3M674.6 20.9h-3M511.9 13.54h1.6M674.6 13.54h-1.6M511.9 9.24h1.6M674.6 9.24h-1.6M511.9 6.19h1.6M674.6 6.19h-1.6" stroke="#444" stroke-width="0.7" fill="none"/>
<rect x="511.9" y="4.5" width="162.7" height="163.9" fill="none" stroke="#999" stroke-width="0.9"/>
<text x="507.9" y="26" font-family="Liberation Sans, sans-serif" font-size="9.4" text-anchor="end" fill="#000" stroke="#000" stroke-width="0.15">10<tspan dy="-5.1" font-size="6.4">&#8722;13</tspan></text>
<text x="507.9" y="50.44" font-family="Liberation Sans, sans-serif" font-size="9.4" text-anchor="end" fill="#000" stroke="#000" stroke-width="0.15">10<tspan dy="-5.1" font-size="6.4">&#8722;14</tspan></text>
<text x="507.9" y="74.88" font-family="Liberation Sans, sans-serif" font-size="9.4" text-anchor="end" fill="#000" stroke="#000" stroke-width="0.15">10<tspan dy="-5.1" font-size="6.4">&#8722;15</tspan></text>
<text x="507.9" y="99.32" font-family="Liberation Sans, sans-serif" font-size="9.4" text-anchor="end" fill="#000" stroke="#000" stroke-width="0.15">10<tspan dy="-5.1" font-size="6.4">&#8722;16</tspan></text>
<text x="507.9" y="123.76" font-family="Liberation Sans, sans-serif" font-size="9.4" text-anchor="end" fill="#000" stroke="#000" stroke-width="0.15">10<tspan dy="-5.1" font-size="6.4">&#8722;17</tspan></text>
<text x="507.9" y="148.2" font-family="Liberation Sans, sans-serif" font-size="9.4" text-anchor="end" fill="#000" stroke="#000" stroke-width="0.15">10<tspan dy="-5.1" font-size="6.4">&#8722;18</tspan></text>
<text x="507.9" y="172.64" font-family="Liberation Sans, sans-serif" font-size="9.4" text-anchor="end" fill="#000" stroke="#000" stroke-width="0.15">10<tspan dy="-5.1" font-size="6.4">&#8722;19</tspan></text>
<text x="506.7" y="184.4" font-family="Liberation Sans, sans-serif" font-size="9.4" fill="#000" stroke="#000" stroke-width="0.15">10<tspan dy="-5.0" font-size="6.4">0</tspan></text>
<text x="536.9" y="184.4" font-family="Liberation Sans, sans-serif" font-size="9.4" fill="#000" stroke="#000" stroke-width="0.15">10<tspan dy="-5.0" font-size="6.4">1</tspan></text>
<text x="567.1" y="184.4" font-family="Liberation Sans, sans-serif" font-size="9.4" fill="#000" stroke="#000" stroke-width="0.15">10<tspan dy="-5.0" font-size="6.4">2</tspan></text>
<text x="597.3" y="184.4" font-family="Liberation Sans, sans-serif" font-size="9.4" fill="#000" stroke="#000" stroke-width="0.15">10<tspan dy="-5.0" font-size="6.4">3</tspan></text>
<text x="627.5" y="184.4" font-family="Liberation Sans, sans-serif" font-size="9.4" fill="#000" stroke="#000" stroke-width="0.15">10<tspan dy="-5.0" font-size="6.4">4</tspan></text>
<text x="657.7" y="184.4" font-family="Liberation Sans, sans-serif" font-size="9.4" fill="#000" stroke="#000" stroke-width="0.15">10<tspan dy="-5.0" font-size="6.4">5</tspan></text>
<text x="594.25" y="195.4" font-family="Liberation Sans, sans-serif" font-size="9.3" text-anchor="middle" fill="#000" stroke="#000" stroke-width="0.18"><tspan font-style="italic">&#964;</tspan> / s</text>
<text transform="translate(476 87.25) rotate(-90)" font-family="Liberation Sans, sans-serif" font-size="9.2" text-anchor="middle" fill="#000" stroke="#000" stroke-width="0.18"><tspan font-style="italic">&#963;</tspan><tspan font-size="6.6" dy="2.4" font-style="italic">y</tspan><tspan dy="-2.4"> / (Hz/Hz)</tspan></text>
<text x="468" y="10.8" font-family="Liberation Sans, sans-serif" font-size="13.2" fill="#000" stroke="#000" stroke-width="0.15">(c)</text>
<path d="M513.4 24.8 L522.49 32.1 L531.58 39.2 L540.67 46.5 L549.76 53.9 L558.86 61 L567.95 68.3 L577.04 75.6 L586.13 82.8 L595.22 90.6 L604.31 97.8 L613.4 104.6 L622.49 111.4 L631.58 119.1 L640.68 125.7 L649.77 132.8 L658.86 141.5 L667.95 144.9" stroke="#333" stroke-width="0.8" fill="none"/>
<path d="M649.77 130.5V135M648.17 130.5h3.2M648.17 135h3.2M658.86 138V145M657.26 138h3.2M657.26 145h3.2M667.95 140V149M666.35 140h3.2M666.35 149h3.2" stroke="#000000" stroke-width="0.8" fill="none"/>
<g fill="#000000"><path d="M513.4 22.1L515.88 24.8L513.4 27.5L510.92 24.8Z"/><path d="M522.49 29.4L524.97 32.1L522.49 34.8L520.02 32.1Z"/><path d="M531.58 36.5L534.06 39.2L531.58 41.9L529.11 39.2Z"/><path d="M540.67 43.8L543.15 46.5L540.67 49.2L538.2 46.5Z"/><path d="M549.76 51.2L552.24 53.9L549.76 56.6L547.29 53.9Z"/><path d="M558.86 58.3L561.33 61L558.86 63.7L556.38 61Z"/><path d="M567.95 65.6L570.42 68.3L567.95 71L565.47 68.3Z"/><path d="M577.04 72.9L579.51 75.6L577.04 78.3L574.56 75.6Z"/><path d="M586.13 80.1L588.6 82.8L586.13 85.5L583.65 82.8Z"/><path d="M595.22 87.9L597.69 90.6L595.22 93.3L592.74 90.6Z"/><path d="M604.31 95.1L606.79 97.8L604.31 100.5L601.84 97.8Z"/><path d="M613.4 101.9L615.88 104.6L613.4 107.3L610.93 104.6Z"/><path d="M622.49 108.7L624.97 111.4L622.49 114.1L620.02 111.4Z"/><path d="M631.58 116.4L634.06 119.1L631.58 121.8L629.11 119.1Z"/><path d="M640.68 123L643.15 125.7L640.68 128.4L638.2 125.7Z"/><path d="M649.77 130.1L652.24 132.8L649.77 135.5L647.29 132.8Z"/><path d="M658.86 138.8L661.33 141.5L658.86 144.2L656.38 141.5Z"/><path d="M667.95 142.2L670.42 144.9L667.95 147.6L665.47 144.9Z"/></g>
<path d="M513.4 15.2 L522.49 21.8 L531.58 29.1 L540.67 36.2 L549.76 43.5 L558.86 50.6 L567.95 58.2 L577.04 65.3 L586.13 72.6 L595.22 80 L604.31 87.2 L613.4 94.5 L622.49 102.2 L631.58 110.1 L640.68 116.4 L649.77 125.4 L658.86 134.4 L667.95 137" stroke="#ff4a4a" stroke-width="0.8" fill="none"/>
<path d="M649.77 123V128M648.17 123h3.2M648.17 128h3.2M658.86 129.5V139M657.26 129.5h3.2M657.26 139h3.2M667.95 129.4V145.2M666.35 129.4h3.2M666.35 145.2h3.2" stroke="#ff0000" stroke-width="0.8" fill="none"/>
<g fill="#ff0000"><circle cx="513.4" cy="15.2" r="1.73"/><circle cx="522.49" cy="21.8" r="1.73"/><circle cx="531.58" cy="29.1" r="1.73"/><circle cx="540.67" cy="36.2" r="1.73"/><circle cx="549.76" cy="43.5" r="1.73"/><circle cx="558.86" cy="50.6" r="1.73"/><circle cx="567.95" cy="58.2" r="1.73"/><circle cx="577.04" cy="65.3" r="1.73"/><circle cx="586.13" cy="72.6" r="1.73"/><circle cx="595.22" cy="80" r="1.73"/><circle cx="604.31" cy="87.2" r="1.73"/><circle cx="613.4" cy="94.5" r="1.73"/><circle cx="622.49" cy="102.2" r="1.73"/><circle cx="631.58" cy="110.1" r="1.73"/><circle cx="640.68" cy="116.4" r="1.73"/><circle cx="649.77" cy="125.4" r="1.73"/><circle cx="658.86" cy="134.4" r="1.73"/><circle cx="667.95" cy="137" r="1.73"/></g>
<rect x="601.6" y="12.4" width="68.6" height="10.9" fill="#fff" stroke="#aaa" stroke-width="0.8"/>
<text x="602.3" y="20.1" font-family="Liberation Sans, sans-serif" font-size="7.5" fill="#000" stroke="#000" stroke-width="0.1">Phase locking of <tspan font-style="italic">f</tspan><tspan font-size="5.6" dy="2" stroke-width="0.08">rep</tspan></text>
<text x="579.5" y="62.4" font-family="Liberation Sans, sans-serif" font-size="6.85" fill="#ff0000" stroke="#ff0000" stroke-width="0.16" text-anchor="start">Comb #2 (EOM)</text>
<text x="561.4" y="111.4" font-family="Liberation Sans, sans-serif" font-size="6.85" fill="#000000" stroke="#000000" stroke-width="0.16" text-anchor="start">Comb #1 (PZT)</text>
<path d="M44.2 207V370.8M76.37 207V370.8M108.54 207V370.8M140.71 207V370.8M172.88 207V370.8M42.7 369.35H205.4M42.7 337.2H205.4M42.7 305.05H205.4M42.7 272.9H205.4M42.7 240.75H205.4M42.7 208.6H205.4" stroke="#ececec" stroke-width="0.9" fill="none"/>
<path d="M42.73 370.8v-1.6M42.73 207v1.6M44.2 370.8v-3M44.2 207v3M53.88 370.8v-1.6M53.88 207v1.6M59.55 370.8v-1.6M59.55 207v1.6M63.57 370.8v-1.6M63.57 207v1.6M66.69 370.8v-1.6M66.69 207v1.6M69.23 370.8v-1.6M69.23 207v1.6M71.39 370.8v-1.6M71.39 207v1.6M73.25 370.8v-1.6M73.25 207v1.6M74.9 370.8v-1.6M74.9 207v1.6M76.37 370.8v-3M76.37 207v3M86.05 370.8v-1.6M86.05 207v1.6M91.72 370.8v-1.6M91.72 207v1.6M95.74 370.8v-1.6M95.74 207v1.6M98.86 370.8v-1.6M98.86 207v1.6M101.4 370.8v-1.6M101.4 207v1.6M103.56 370.8v-1.6M103.56 207v1.6M105.42 370.8v-1.6M105.42 207v1.6M107.07 370.8v-1.6M107.07 207v1.6M108.54 370.8v-3M108.54 207v3M118.22 370.8v-1.6M118.22 207v1.6M123.89 370.8v-1.6M123.89 207v1.6M127.91 370.8v-1.6M127.91 207v1.6M131.03 370.8v-1.6M131.03 207v1.6M133.57 370.8v-1.6M133.57 207v1.6M135.73 370.8v-1.6M135.73 207v1.6M137.59 370.8v-1.6M137.59 207v1.6M139.24 370.8v-1.6M139.24 207v1.6M140.71 370.8v-3M140.71 207v3M150.39 370.8v-1.6M150.39 207v1.6M156.06 370.8v-1.6M156.06 207v1.6M160.08 370.8v-1.6M160.08 207v1.6M163.2 370.8v-1.6M163.2 207v1.6M165.74 370.8v-1.6M165.74 207v1.6M167.9 370.8v-1.6M167.9 207v1.6M169.76 370.8v-1.6M169.76 207v1.6M171.41 370.8v-1.6M171.41 207v1.6M172.88 370.8v-3M172.88 207v3M182.56 370.8v-1.6M182.56 207v1.6M188.23 370.8v-1.6M188.23 207v1.6M192.25 370.8v-1.6M192.25 207v1.6M195.37 370.8v-1.6M195.37 207v1.6M197.91 370.8v-1.6M197.91 207v1.6M200.07 370.8v-1.6M200.07 207v1.6M201.93 370.8v-1.6M201.93 207v1.6M203.58 370.8v-1.6M203.58 207v1.6M205.05 370.8v-3M205.05 207v3M42.7 369.35h3M205.4 369.35h-3M42.7 359.67h1.6M205.4 359.67h-1.6M42.7 354.01h1.6M205.4 354.01h-1.6M42.7 349.99h1.6M205.4 349.99h-1.6M42.7 346.88h1.6M205.4 346.88h-1.6M42.7 344.33h1.6M205.4 344.33h-1.6M42.7 342.18h1.6M205.4 342.18h-1.6M42.7 340.32h1.6M205.4 340.32h-1.6M42.7 338.67h1.6M205.4 338.67h-1.6M42.7 337.2h3M205.4 337.2h-3M42.7 327.52h1.6M205.4 327.52h-1.6M42.7 321.86h1.6M205.4 321.86h-1.6M42.7 317.84h1.6M205.4 317.84h-1.6M42.7 314.73h1.6M205.4 314.73h-1.6M42.7 312.18h1.6M205.4 312.18h-1.6M42.7 310.03h1.6M205.4 310.03h-1.6M42.7 308.17h1.6M205.4 308.17h-1.6M42.7 306.52h1.6M205.4 306.52h-1.6M42.7 305.05h3M205.4 305.05h-3M42.7 295.37h1.6M205.4 295.37h-1.6M42.7 289.71h1.6M205.4 289.71h-1.6M42.7 285.69h1.6M205.4 285.69h-1.6M42.7 282.58h1.6M205.4 282.58h-1.6M42.7 280.03h1.6M205.4 280.03h-1.6M42.7 277.88h1.6M205.4 277.88h-1.6M42.7 276.02h1.6M205.4 276.02h-1.6M42.7 274.37h1.6M205.4 274.37h-1.6M42.7 272.9h3M205.4 272.9h-3M42.7 263.22h1.6M205.4 263.22h-1.6M42.7 257.56h1.6M205.4 257.56h-1.6M42.7 253.54h1.6M205.4 253.54h-1.6M42.7 250.43h1.6M205.4 250.43h-1.6M42.7 247.88h1.6M205.4 247.88h-1.6M42.7 245.73h1.6M205.4 245.73h-1.6M42.7 243.87h1.6M205.4 243.87h-1.6M42.7 242.22h1.6M205.4 242.22h-1.6M42.7 240.75h3M205.4 240.75h-3M42.7 231.07h1.6M205.4 231.07h-1.6M42.7 225.41h1.6M205.4 225.41h-1.6M42.7 221.39h1.6M205.4 221.39h-1.6M42.7 218.28h1.6M205.4 218.28h-1.6M42.7 215.73h1.6M205.4 215.73h-1.6M42.7 213.58h1.6M205.4 213.58h-1.6M42.7 211.72h1.6M205.4 211.72h-1.6M42.7 210.07h1.6M205.4 210.07h-1.6M42.7 208.6h3M205.4 208.6h-3" stroke="#444" stroke-width="0.7" fill="none"/>
<rect x="42.7" y="207" width="162.7" height="163.8" fill="none" stroke="#999" stroke-width="0.9"/>
<text x="38.7" y="213.7" font-family="Liberation Sans, sans-serif" font-size="9.4" text-anchor="end" fill="#000" stroke="#000" stroke-width="0.15">10<tspan dy="-5.1" font-size="6.4">&#8722;14</tspan></text>
<text x="38.7" y="245.85" font-family="Liberation Sans, sans-serif" font-size="9.4" text-anchor="end" fill="#000" stroke="#000" stroke-width="0.15">10<tspan dy="-5.1" font-size="6.4">&#8722;15</tspan></text>
<text x="38.7" y="278" font-family="Liberation Sans, sans-serif" font-size="9.4" text-anchor="end" fill="#000" stroke="#000" stroke-width="0.15">10<tspan dy="-5.1" font-size="6.4">&#8722;16</tspan></text>
<text x="38.7" y="310.15" font-family="Liberation Sans, sans-serif" font-size="9.4" text-anchor="end" fill="#000" stroke="#000" stroke-width="0.15">10<tspan dy="-5.1" font-size="6.4">&#8722;17</tspan></text>
<text x="38.7" y="342.3" font-family="Liberation Sans, sans-serif" font-size="9.4" text-anchor="end" fill="#000" stroke="#000" stroke-width="0.15">10<tspan dy="-5.1" font-size="6.4">&#8722;18</tspan></text>
<text x="38.7" y="374.45" font-family="Liberation Sans, sans-serif" font-size="9.4" text-anchor="end" fill="#000" stroke="#000" stroke-width="0.15">10<tspan dy="-5.1" font-size="6.4">&#8722;19</tspan></text>
<text x="37.5" y="386.8" font-family="Liberation Sans, sans-serif" font-size="9.4" fill="#000" stroke="#000" stroke-width="0.15">10<tspan dy="-5.0" font-size="6.4">0</tspan></text>
<text x="69.67" y="386.8" font-family="Liberation Sans, sans-serif" font-size="9.4" fill="#000" stroke="#000" stroke-width="0.15">10<tspan dy="-5.0" font-size="6.4">1</tspan></text>
<text x="101.84" y="386.8" font-family="Liberation Sans, sans-serif" font-size="9.4" fill="#000" stroke="#000" stroke-width="0.15">10<tspan dy="-5.0" font-size="6.4">2</tspan></text>
<text x="134.01" y="386.8" font-family="Liberation Sans, sans-serif" font-size="9.4" fill="#000" stroke="#000" stroke-width="0.15">10<tspan dy="-5.0" font-size="6.4">3</tspan></text>
<text x="166.18" y="386.8" font-family="Liberation Sans, sans-serif" font-size="9.4" fill="#000" stroke="#000" stroke-width="0.15">10<tspan dy="-5.0" font-size="6.4">4</tspan></text>
<text x="198.35" y="386.8" font-family="Liberation Sans, sans-serif" font-size="9.4" fill="#000" stroke="#000" stroke-width="0.15">10<tspan dy="-5.0" font-size="6.4">5</tspan></text>
<text x="125.05" y="397.8" font-family="Liberation Sans, sans-serif" font-size="9.3" text-anchor="middle" fill="#000" stroke="#000" stroke-width="0.18"><tspan font-style="italic">&#964;</tspan> / s</text>
<text transform="translate(6.8 289.7) rotate(-90)" font-family="Liberation Sans, sans-serif" font-size="9.2" text-anchor="middle" fill="#000" stroke="#000" stroke-width="0.18"><tspan font-style="italic">&#963;</tspan><tspan font-size="6.6" dy="2.4" font-style="italic">y</tspan><tspan dy="-2.4"> / (Hz/Hz)</tspan></text>
<text x="-1.3" y="213.1" font-family="Liberation Sans, sans-serif" font-size="13.2" fill="#000" stroke="#000" stroke-width="0.15">(d)</text>
<path d="M44.1 239.4 L53.78 245.3 L63.47 251.4 L73.15 261.6 L82.84 270 L92.52 278.9 L102.2 287.8 L111.89 297 L121.57 307.6 L131.26 313.9 L140.94 322.1 L150.63 322.1 L160.31 321.6 L169.99 325.9 L179.68 334.8 L189.36 350.8 L199.05 361.5 L204.1 364.2" stroke="#808080" stroke-width="0.8" fill="none"/>
<path d="M53.78 245.3V245.3M52.18 245.3h3.2M52.18 245.3h3.2M63.47 251.4V251.4M61.87 251.4h3.2M61.87 251.4h3.2M73.15 261.6V261.6M71.55 261.6h3.2M71.55 261.6h3.2M82.84 270V270M81.24 270h3.2M81.24 270h3.2M92.52 278.9V278.9M90.92 278.9h3.2M90.92 278.9h3.2M102.2 287.8V287.8M100.6 287.8h3.2M100.6 287.8h3.2M111.89 297V297M110.29 297h3.2M110.29 297h3.2M121.57 307.6V307.6M119.97 307.6h3.2M119.97 307.6h3.2M131.26 313.9V313.9M129.66 313.9h3.2M129.66 313.9h3.2M140.94 322.1V322.1M139.34 322.1h3.2M139.34 322.1h3.2M150.63 319.1V325.4M149.03 319.1h3.2M149.03 325.4h3.2M160.31 319.1V324.9M158.71 319.1h3.2M158.71 324.9h3.2M169.99 323.5V328M168.39 323.5h3.2M168.39 328h3.2M179.68 333V336.5M178.08 333h3.2M178.08 336.5h3.2M189.36 346.4V352.2M187.76 346.4h3.2M187.76 352.2h3.2M199.05 357.4V364.5M197.45 357.4h3.2M197.45 364.5h3.2" stroke="#777" stroke-width="0.8" fill="none"/>
<path d="M44.1 235.6 L53.78 244 L63.47 250.4 L73.15 250.9 L82.84 251.4 L92.52 253.4 L102.2 258.5 L111.89 264.4 L121.57 269.5 L131.26 274.6 L140.94 275.3 L150.63 273.3 L160.31 270.5 L169.99 270.5 L179.68 279.1 L189.36 291.3 L199.05 294.6" stroke="#5c5cff" stroke-width="0.8" fill="none"/>
<path d="M179.68 275V283M178.08 275h3.2M178.08 283h3.2M189.36 286.5V295.4M187.76 286.5h3.2M187.76 295.4h3.2M199.05 286.5V298.4M197.45 286.5h3.2M197.45 298.4h3.2" stroke="#0000ff" stroke-width="0.8" fill="none"/>
<g fill="#0000ff"><path d="M44.1 233.41L46.2 237.09H42Z"/><path d="M53.78 241.81L55.88 245.49H51.68Z"/><path d="M63.47 248.21L65.57 251.89H61.37Z"/><path d="M73.15 248.71L75.25 252.39H71.05Z"/><path d="M82.84 249.21L84.94 252.89H80.74Z"/><path d="M92.52 251.21L94.62 254.89H90.42Z"/><path d="M102.2 256.31L104.3 259.99H100.1Z"/><path d="M111.89 262.21L113.99 265.89H109.79Z"/><path d="M121.57 267.31L123.67 270.99H119.47Z"/><path d="M131.26 272.41L133.36 276.09H129.16Z"/><path d="M140.94 273.11L143.04 276.79H138.84Z"/><path d="M150.63 271.11L152.73 274.79H148.53Z"/><path d="M160.31 268.31L162.41 271.99H158.21Z"/><path d="M169.99 268.31L172.09 271.99H167.89Z"/><path d="M179.68 276.91L181.78 280.59H177.58Z"/><path d="M189.36 289.11L191.46 292.79H187.26Z"/><path d="M199.05 292.41L201.15 296.09H196.95Z"/></g>
<path d="M44.1 231.8 L53.78 240.2 L63.47 248.3 L73.15 256 L82.84 263.6 L92.52 272.5 L102.2 280.4 L111.89 289.3 L121.57 297.3 L131.26 305.5 L140.94 309.9 L150.63 312.4 L160.31 315.7 L169.99 318.3 L179.68 323.3 L189.36 335.3 L199.05 338.1" stroke="#ff4a4a" stroke-width="0.8" fill="none"/>
<path d="M179.68 320V326M178.08 320h3.2M178.08 326h3.2M189.36 329V338.6M187.76 329h3.2M187.76 338.6h3.2M199.05 329V343.2M197.45 329h3.2M197.45 343.2h3.2" stroke="#ff0000" stroke-width="0.8" fill="none"/>
<g fill="#ff0000"><circle cx="44.1" cy="231.8" r="1.89"/><circle cx="53.78" cy="240.2" r="1.89"/><circle cx="63.47" cy="248.3" r="1.89"/><circle cx="73.15" cy="256" r="1.89"/><circle cx="82.84" cy="263.6" r="1.89"/><circle cx="92.52" cy="272.5" r="1.89"/><circle cx="102.2" cy="280.4" r="1.89"/><circle cx="111.89" cy="289.3" r="1.89"/><circle cx="121.57" cy="297.3" r="1.89"/><circle cx="131.26" cy="305.5" r="1.89"/><circle cx="140.94" cy="309.9" r="1.89"/><circle cx="150.63" cy="312.4" r="1.89"/><circle cx="160.31" cy="315.7" r="1.89"/><circle cx="169.99" cy="318.3" r="1.89"/><circle cx="179.68" cy="323.3" r="1.89"/><circle cx="189.36" cy="335.3" r="1.89"/><circle cx="199.05" cy="338.1" r="1.89"/></g>
<rect x="154.6" y="215.4" width="46.4" height="9.3" fill="#fff" stroke="#aaa" stroke-width="0.8"/>
<text x="154.9" y="222.6" font-family="Liberation Sans, sans-serif" font-size="7.5" fill="#000" stroke="#000" stroke-width="0.1">Coaxial cable</text>
<text x="151.2" y="259" font-family="Liberation Sans, sans-serif" font-size="6.85" fill="#0000ff" stroke="#0000ff" stroke-width="0.16" text-anchor="start">FUJIKURA</text>
<text x="151.2" y="265.6" font-family="Liberation Sans, sans-serif" font-size="6.85" fill="#0000ff" stroke="#0000ff" stroke-width="0.16" text-anchor="start">RG-58C/U</text>
<text x="127.8" y="293.4" font-family="Liberation Sans, sans-serif" font-size="6.85" fill="#ff0000" stroke="#ff0000" stroke-width="0.16" text-anchor="start">HUBER+SUHNER</text>
<text x="127.8" y="300.9" font-family="Liberation Sans, sans-serif" font-size="6.85" fill="#ff0000" stroke="#ff0000" stroke-width="0.16" text-anchor="start">SUCOFORM_141_CT</text>
<text x="125.5" y="345.9" font-family="Liberation Sans, sans-serif" font-size="6.85" fill="#808080" stroke="#808080" stroke-width="0.16" text-anchor="start">Measurement limit</text>
<path d="M279.6 207.2V370.6M316.7 207.2V370.6M353.8 207.2V370.6M390.9 207.2V370.6M428 207.2V370.6M276.9 368.48H441.2M276.9 332.91H441.2M276.9 297.34H441.2M276.9 261.77H441.2M276.9 226.2H441.2" stroke="#ececec" stroke-width="0.9" fill="none"/>
<path d="M277.9 370.6v-1.6M277.9 207.2v1.6M279.6 370.6v-3M279.6 207.2v3M290.77 370.6v-1.6M290.77 207.2v1.6M297.3 370.6v-1.6M297.3 207.2v1.6M301.94 370.6v-1.6M301.94 207.2v1.6M305.53 370.6v-1.6M305.53 207.2v1.6M308.47 370.6v-1.6M308.47 207.2v1.6M310.95 370.6v-1.6M310.95 207.2v1.6M313.1 370.6v-1.6M313.1 207.2v1.6M315 370.6v-1.6M315 207.2v1.6M316.7 370.6v-3M316.7 207.2v3M327.87 370.6v-1.6M327.87 207.2v1.6M334.4 370.6v-1.6M334.4 207.2v1.6M339.04 370.6v-1.6M339.04 207.2v1.6M342.63 370.6v-1.6M342.63 207.2v1.6M345.57 370.6v-1.6M345.57 207.2v1.6M348.05 370.6v-1.6M348.05 207.2v1.6M350.2 370.6v-1.6M350.2 207.2v1.6M352.1 370.6v-1.6M352.1 207.2v1.6M353.8 370.6v-3M353.8 207.2v3M364.97 370.6v-1.6M364.97 207.2v1.6M371.5 370.6v-1.6M371.5 207.2v1.6M376.14 370.6v-1.6M376.14 207.2v1.6M379.73 370.6v-1.6M379.73 207.2v1.6M382.67 370.6v-1.6M382.67 207.2v1.6M385.15 370.6v-1.6M385.15 207.2v1.6M387.3 370.6v-1.6M387.3 207.2v1.6M389.2 370.6v-1.6M389.2 207.2v1.6M390.9 370.6v-3M390.9 207.2v3M402.07 370.6v-1.6M402.07 207.2v1.6M408.6 370.6v-1.6M408.6 207.2v1.6M413.24 370.6v-1.6M413.24 207.2v1.6M416.83 370.6v-1.6M416.83 207.2v1.6M419.77 370.6v-1.6M419.77 207.2v1.6M422.25 370.6v-1.6M422.25 207.2v1.6M424.4 370.6v-1.6M424.4 207.2v1.6M426.3 370.6v-1.6M426.3 207.2v1.6M428 370.6v-3M428 207.2v3M439.17 370.6v-1.6M439.17 207.2v1.6M276.9 370.11h1.6M441.2 370.11h-1.6M276.9 368.48h3M441.2 368.48h-3M276.9 357.77h1.6M441.2 357.77h-1.6M276.9 351.51h1.6M441.2 351.51h-1.6M276.9 347.06h1.6M441.2 347.06h-1.6M276.9 343.62h1.6M441.2 343.62h-1.6M276.9 340.8h1.6M441.2 340.8h-1.6M276.9 338.42h1.6M441.2 338.42h-1.6M276.9 336.36h1.6M441.2 336.36h-1.6M276.9 334.54h1.6M441.2 334.54h-1.6M276.9 332.91h3M441.2 332.91h-3M276.9 322.2h1.6M441.2 322.2h-1.6M276.9 315.94h1.6M441.2 315.94h-1.6M276.9 311.49h1.6M441.2 311.49h-1.6M276.9 308.05h1.6M441.2 308.05h-1.6M276.9 305.23h1.6M441.2 305.23h-1.6M276.9 302.85h1.6M441.2 302.85h-1.6M276.9 300.79h1.6M441.2 300.79h-1.6M276.9 298.97h1.6M441.2 298.97h-1.6M276.9 297.34h3M441.2 297.34h-3M276.9 286.63h1.6M441.2 286.63h-1.6M276.9 280.37h1.6M441.2 280.37h-1.6M276.9 275.92h1.6M441.2 275.92h-1.6M276.9 272.48h1.6M441.2 272.48h-1.6M276.9 269.66h1.6M441.2 269.66h-1.6M276.9 267.28h1.6M441.2 267.28h-1.6M276.9 265.22h1.6M441.2 265.22h-1.6M276.9 263.4h1.6M441.2 263.4h-1.6M276.9 261.77h3M441.2 261.77h-3M276.9 251.06h1.6M441.2 251.06h-1.6M276.9 244.8h1.6M441.2 244.8h-1.6M276.9 240.35h1.6M441.2 240.35h-1.6M276.9 236.91h1.6M441.2 236.91h-1.6M276.9 234.09h1.6M441.2 234.09h-1.6M276.9 231.71h1.6M441.2 231.71h-1.6M276.9 229.65h1.6M441.2 229.65h-1.6M276.9 227.83h1.6M441.2 227.83h-1.6M276.9 226.2h3M441.2 226.2h-3M276.9 215.49h1.6M441.2 215.49h-1.6M276.9 209.23h1.6M441.2 209.23h-1.6" stroke="#444" stroke-width="0.7" fill="none"/>
<rect x="276.9" y="207.2" width="164.3" height="163.4" fill="none" stroke="#999" stroke-width="0.9"/>
<text x="272.9" y="231.3" font-family="Liberation Sans, sans-serif" font-size="9.4" text-anchor="end" fill="#000" stroke="#000" stroke-width="0.15">10<tspan dy="-5.1" font-size="6.4">&#8722;15</tspan></text>
<text x="272.9" y="266.87" font-family="Liberation Sans, sans-serif" font-size="9.4" text-anchor="end" fill="#000" stroke="#000" stroke-width="0.15">10<tspan dy="-5.1" font-size="6.4">&#8722;16</tspan></text>
<text x="272.9" y="302.44" font-family="Liberation Sans, sans-serif" font-size="9.4" text-anchor="end" fill="#000" stroke="#000" stroke-width="0.15">10<tspan dy="-5.1" font-size="6.4">&#8722;17</tspan></text>
<text x="272.9" y="338.01" font-family="Liberation Sans, sans-serif" font-size="9.4" text-anchor="end" fill="#000" stroke="#000" stroke-width="0.15">10<tspan dy="-5.1" font-size="6.4">&#8722;18</tspan></text>
<text x="272.9" y="373.58" font-family="Liberation Sans, sans-serif" font-size="9.4" text-anchor="end" fill="#000" stroke="#000" stroke-width="0.15">10<tspan dy="-5.1" font-size="6.4">&#8722;19</tspan></text>
<text x="272.9" y="386.6" font-family="Liberation Sans, sans-serif" font-size="9.4" fill="#000" stroke="#000" stroke-width="0.15">10<tspan dy="-5.0" font-size="6.4">0</tspan></text>
<text x="310" y="386.6" font-family="Liberation Sans, sans-serif" font-size="9.4" fill="#000" stroke="#000" stroke-width="0.15">10<tspan dy="-5.0" font-size="6.4">1</tspan></text>
<text x="347.1" y="386.6" font-family="Liberation Sans, sans-serif" font-size="9.4" fill="#000" stroke="#000" stroke-width="0.15">10<tspan dy="-5.0" font-size="6.4">2</tspan></text>
<text x="384.2" y="386.6" font-family="Liberation Sans, sans-serif" font-size="9.4" fill="#000" stroke="#000" stroke-width="0.15">10<tspan dy="-5.0" font-size="6.4">3</tspan></text>
<text x="421.3" y="386.6" font-family="Liberation Sans, sans-serif" font-size="9.4" fill="#000" stroke="#000" stroke-width="0.15">10<tspan dy="-5.0" font-size="6.4">4</tspan></text>
<text x="360.05" y="397.6" font-family="Liberation Sans, sans-serif" font-size="9.3" text-anchor="middle" fill="#000" stroke="#000" stroke-width="0.18"><tspan font-style="italic">&#964;</tspan> / s</text>
<text transform="translate(240.5 289.7) rotate(-90)" font-family="Liberation Sans, sans-serif" font-size="9.2" text-anchor="middle" fill="#000" stroke="#000" stroke-width="0.18"><tspan font-style="italic">&#963;</tspan><tspan font-size="6.6" dy="2.4" font-style="italic">y</tspan><tspan dy="-2.4"> / (Hz/Hz)</tspan></text>
<text x="233.3" y="213.1" font-family="Liberation Sans, sans-serif" font-size="13.2" fill="#000" stroke="#000" stroke-width="0.15">(e)</text>
<path d="M279.4 235.8 L290.57 240.2 L301.74 245 L312.9 253 L324.07 262.2 L335.24 273.4 L346.41 288.4 L357.58 302.7 L368.75 311.7 L379.91 312.7 L391.08 314.6 L402.25 332 L413.42 335.4 L424.59 340.9 L428 340.9" stroke="#ff5cff" stroke-width="0.8" fill="none"/>
<path d="M402.25 330V334.5M400.65 330h3.2M400.65 334.5h3.2M413.42 332V339M411.82 332h3.2M411.82 339h3.2M424.59 333V344M422.99 333h3.2M422.99 344h3.2M428 334.5V345M426.4 334.5h3.2M426.4 345h3.2" stroke="#ff00ff" stroke-width="0.8" fill="none"/>
<g fill="#ff00ff"><rect x="277.69" y="234.09" width="3.42" height="3.42"/><rect x="288.86" y="238.49" width="3.42" height="3.42"/><rect x="300.03" y="243.29" width="3.42" height="3.42"/><rect x="311.19" y="251.29" width="3.42" height="3.42"/><rect x="322.36" y="260.49" width="3.42" height="3.42"/><rect x="333.53" y="271.69" width="3.42" height="3.42"/><rect x="344.7" y="286.69" width="3.42" height="3.42"/><rect x="355.87" y="300.99" width="3.42" height="3.42"/><rect x="367.04" y="309.99" width="3.42" height="3.42"/><rect x="378.2" y="310.99" width="3.42" height="3.42"/><rect x="389.37" y="312.89" width="3.42" height="3.42"/><rect x="400.54" y="330.29" width="3.42" height="3.42"/><rect x="411.71" y="333.69" width="3.42" height="3.42"/><rect x="422.88" y="339.19" width="3.42" height="3.42"/><rect x="426.29" y="339.19" width="3.42" height="3.42"/></g>
<path d="M279.4 235.8 L290.57 237.1 L301.74 240.4 L312.9 246.6 L324.07 255 L335.24 263.5 L346.41 273.7 L357.58 285.5 L368.75 295.4 L379.91 303.9 L391.08 308.2 L402.25 311.5 L413.42 326.5 L424.59 338.5 L428 330.8" stroke="#ff4a4a" stroke-width="0.8" fill="none"/>
<path d="M402.25 308.5V314.5M400.65 308.5h3.2M400.65 314.5h3.2M413.42 323V330M411.82 323h3.2M411.82 330h3.2M424.59 332.2V339.8M422.99 332.2h3.2M422.99 339.8h3.2M428 322.9V334.5M426.4 322.9h3.2M426.4 334.5h3.2" stroke="#ff0000" stroke-width="0.8" fill="none"/>
<g fill="#ff0000"><circle cx="279.4" cy="235.8" r="1.89"/><circle cx="290.57" cy="237.1" r="1.89"/><circle cx="301.74" cy="240.4" r="1.89"/><circle cx="312.9" cy="246.6" r="1.89"/><circle cx="324.07" cy="255" r="1.89"/><circle cx="335.24" cy="263.5" r="1.89"/><circle cx="346.41" cy="273.7" r="1.89"/><circle cx="357.58" cy="285.5" r="1.89"/><circle cx="368.75" cy="295.4" r="1.89"/><circle cx="379.91" cy="303.9" r="1.89"/><circle cx="391.08" cy="308.2" r="1.89"/><circle cx="402.25" cy="311.5" r="1.89"/><circle cx="413.42" cy="326.5" r="1.89"/><circle cx="424.59" cy="338.5" r="1.89"/><circle cx="428" cy="330.8" r="1.89"/></g>
<rect x="357.3" y="215.2" width="78.7" height="9.6" fill="#fff" stroke="#aaa" stroke-width="0.8"/>
<text x="357.8" y="222.6" font-family="Liberation Sans, sans-serif" font-size="7.5" fill="#000" stroke="#000" stroke-width="0.1">Inter-branch fiber noise</text>
<text x="362" y="286.4" font-family="Liberation Sans, sans-serif" font-size="6.85" fill="#ff0000" stroke="#ff0000" stroke-width="0.16" text-anchor="start">Derived from ref. [46]</text>
<text x="301.5" y="323" font-family="Liberation Sans, sans-serif" font-size="6.85" fill="#ff00ff" stroke="#ff00ff" stroke-width="0.16" text-anchor="start">Derived from ref. [46]</text>
<text x="301.5" y="330.9" font-family="Liberation Sans, sans-serif" font-size="6.85" fill="#ff00ff" stroke="#ff00ff" stroke-width="0.16" text-anchor="start">(Modified Allan deviation)</text>
<path d="M513.4 207.4V370.8M543.6 207.4V370.8M573.8 207.4V370.8M604 207.4V370.8M634.2 207.4V370.8M664.4 207.4V370.8M511.9 359.4H674.4M511.9 334.38H674.4M511.9 309.36H674.4M511.9 284.34H674.4M511.9 259.32H674.4M511.9 234.3H674.4M511.9 209.28H674.4" stroke="#ececec" stroke-width="0.9" fill="none"/>
<path d="M512.02 370.8v-1.6M512.02 207.4v1.6M513.4 370.8v-3M513.4 207.4v3M522.49 370.8v-1.6M522.49 207.4v1.6M527.81 370.8v-1.6M527.81 207.4v1.6M531.58 370.8v-1.6M531.58 207.4v1.6M534.51 370.8v-1.6M534.51 207.4v1.6M536.9 370.8v-1.6M536.9 207.4v1.6M538.92 370.8v-1.6M538.92 207.4v1.6M540.67 370.8v-1.6M540.67 207.4v1.6M542.22 370.8v-1.6M542.22 207.4v1.6M543.6 370.8v-3M543.6 207.4v3M552.69 370.8v-1.6M552.69 207.4v1.6M558.01 370.8v-1.6M558.01 207.4v1.6M561.78 370.8v-1.6M561.78 207.4v1.6M564.71 370.8v-1.6M564.71 207.4v1.6M567.1 370.8v-1.6M567.1 207.4v1.6M569.12 370.8v-1.6M569.12 207.4v1.6M570.87 370.8v-1.6M570.87 207.4v1.6M572.42 370.8v-1.6M572.42 207.4v1.6M573.8 370.8v-3M573.8 207.4v3M582.89 370.8v-1.6M582.89 207.4v1.6M588.21 370.8v-1.6M588.21 207.4v1.6M591.98 370.8v-1.6M591.98 207.4v1.6M594.91 370.8v-1.6M594.91 207.4v1.6M597.3 370.8v-1.6M597.3 207.4v1.6M599.32 370.8v-1.6M599.32 207.4v1.6M601.07 370.8v-1.6M601.07 207.4v1.6M602.62 370.8v-1.6M602.62 207.4v1.6M604 370.8v-3M604 207.4v3M613.09 370.8v-1.6M613.09 207.4v1.6M618.41 370.8v-1.6M618.41 207.4v1.6M622.18 370.8v-1.6M622.18 207.4v1.6M625.11 370.8v-1.6M625.11 207.4v1.6M627.5 370.8v-1.6M627.5 207.4v1.6M629.52 370.8v-1.6M629.52 207.4v1.6M631.27 370.8v-1.6M631.27 207.4v1.6M632.82 370.8v-1.6M632.82 207.4v1.6M634.2 370.8v-3M634.2 207.4v3M643.29 370.8v-1.6M643.29 207.4v1.6M648.61 370.8v-1.6M648.61 207.4v1.6M652.38 370.8v-1.6M652.38 207.4v1.6M655.31 370.8v-1.6M655.31 207.4v1.6M657.7 370.8v-1.6M657.7 207.4v1.6M659.72 370.8v-1.6M659.72 207.4v1.6M661.47 370.8v-1.6M661.47 207.4v1.6M663.02 370.8v-1.6M663.02 207.4v1.6M664.4 370.8v-3M664.4 207.4v3M673.49 370.8v-1.6M673.49 207.4v1.6M511.9 369.36h1.6M674.4 369.36h-1.6M511.9 366.93h1.6M674.4 366.93h-1.6M511.9 364.95h1.6M674.4 364.95h-1.6M511.9 363.28h1.6M674.4 363.28h-1.6M511.9 361.82h1.6M674.4 361.82h-1.6M511.9 360.54h1.6M674.4 360.54h-1.6M511.9 359.4h3M674.4 359.4h-3M511.9 351.87h1.6M674.4 351.87h-1.6M511.9 347.46h1.6M674.4 347.46h-1.6M511.9 344.34h1.6M674.4 344.34h-1.6M511.9 341.91h1.6M674.4 341.91h-1.6M511.9 339.93h1.6M674.4 339.93h-1.6M511.9 338.26h1.6M674.4 338.26h-1.6M511.9 336.8h1.6M674.4 336.8h-1.6M511.9 335.52h1.6M674.4 335.52h-1.6M511.9 334.38h3M674.4 334.38h-3M511.9 326.85h1.6M674.4 326.85h-1.6M511.9 322.44h1.6M674.4 322.44h-1.6M511.9 319.32h1.6M674.4 319.32h-1.6M511.9 316.89h1.6M674.4 316.89h-1.6M511.9 314.91h1.6M674.4 314.91h-1.6M511.9 313.24h1.6M674.4 313.24h-1.6M511.9 311.78h1.6M674.4 311.78h-1.6M511.9 310.5h1.6M674.4 310.5h-1.6M511.9 309.36h3M674.4 309.36h-3M511.9 301.83h1.6M674.4 301.83h-1.6M511.9 297.42h1.6M674.4 297.42h-1.6M511.9 294.3h1.6M674.4 294.3h-1.6M511.9 291.87h1.6M674.4 291.87h-1.6M511.9 289.89h1.6M674.4 289.89h-1.6M511.9 288.22h1.6M674.4 288.22h-1.6M511.9 286.76h1.6M674.4 286.76h-1.6M511.9 285.48h1.6M674.4 285.48h-1.6M511.9 284.34h3M674.4 284.34h-3M511.9 276.81h1.6M674.4 276.81h-1.6M511.9 272.4h1.6M674.4 272.4h-1.6M511.9 269.28h1.6M674.4 269.28h-1.6M511.9 266.85h1.6M674.4 266.85h-1.6M511.9 264.87h1.6M674.4 264.87h-1.6M511.9 263.2h1.6M674.4 263.2h-1.6M511.9 261.74h1.6M674.4 261.74h-1.6M511.9 260.46h1.6M674.4 260.46h-1.6M511.9 259.32h3M674.4 259.32h-3M511.9 251.79h1.6M674.4 251.79h-1.6M511.9 247.38h1.6M674.4 247.38h-1.6M511.9 244.26h1.6M674.4 244.26h-1.6M511.9 241.83h1.6M674.4 241.83h-1.6M511.9 239.85h1.6M674.4 239.85h-1.6M511.9 238.18h1.6M674.4 238.18h-1.6M511.9 236.72h1.6M674.4 236.72h-1.6M511.9 235.44h1.6M674.4 235.44h-1.6M511.9 234.3h3M674.4 234.3h-3M511.9 226.77h1.6M674.4 226.77h-1.6M511.9 222.36h1.6M674.4 222.36h-1.6M511.9 219.24h1.6M674.4 219.24h-1.6M511.9 216.81h1.6M674.4 216.81h-1.6M511.9 214.83h1.6M674.4 214.83h-1.6M511.9 213.16h1.6M674.4 213.16h-1.6M511.9 211.7h1.6M674.4 211.7h-1.6M511.9 210.42h1.6M674.4 210.42h-1.6M511.9 209.28h3M674.4 209.28h-3" stroke="#444" stroke-width="0.7" fill="none"/>
<rect x="511.9" y="207.4" width="162.5" height="163.4" fill="none" stroke="#999" stroke-width="0.9"/>
<text x="507.9" y="214.38" font-family="Liberation Sans, sans-serif" font-size="9.4" text-anchor="end" fill="#000" stroke="#000" stroke-width="0.15">10<tspan dy="-5.1" font-size="6.4">&#8722;16</tspan></text>
<text x="507.9" y="239.4" font-family="Liberation Sans, sans-serif" font-size="9.4" text-anchor="end" fill="#000" stroke="#000" stroke-width="0.15">10<tspan dy="-5.1" font-size="6.4">&#8722;17</tspan></text>
<text x="507.9" y="264.42" font-family="Liberation Sans, sans-serif" font-size="9.4" text-anchor="end" fill="#000" stroke="#000" stroke-width="0.15">10<tspan dy="-5.1" font-size="6.4">&#8722;18</tspan></text>
<text x="507.9" y="289.44" font-family="Liberation Sans, sans-serif" font-size="9.4" text-anchor="end" fill="#000" stroke="#000" stroke-width="0.15">10<tspan dy="-5.1" font-size="6.4">&#8722;19</tspan></text>
<text x="507.9" y="314.46" font-family="Liberation Sans, sans-serif" font-size="9.4" text-anchor="end" fill="#000" stroke="#000" stroke-width="0.15">10<tspan dy="-5.1" font-size="6.4">&#8722;20</tspan></text>
<text x="507.9" y="339.48" font-family="Liberation Sans, sans-serif" font-size="9.4" text-anchor="end" fill="#000" stroke="#000" stroke-width="0.15">10<tspan dy="-5.1" font-size="6.4">&#8722;21</tspan></text>
<text x="507.9" y="364.5" font-family="Liberation Sans, sans-serif" font-size="9.4" text-anchor="end" fill="#000" stroke="#000" stroke-width="0.15">10<tspan dy="-5.1" font-size="6.4">&#8722;22</tspan></text>
<text x="506.7" y="386.8" font-family="Liberation Sans, sans-serif" font-size="9.4" fill="#000" stroke="#000" stroke-width="0.15">10<tspan dy="-5.0" font-size="6.4">0</tspan></text>
<text x="536.9" y="386.8" font-family="Liberation Sans, sans-serif" font-size="9.4" fill="#000" stroke="#000" stroke-width="0.15">10<tspan dy="-5.0" font-size="6.4">1</tspan></text>
<text x="567.1" y="386.8" font-family="Liberation Sans, sans-serif" font-size="9.4" fill="#000" stroke="#000" stroke-width="0.15">10<tspan dy="-5.0" font-size="6.4">2</tspan></text>
<text x="597.3" y="386.8" font-family="Liberation Sans, sans-serif" font-size="9.4" fill="#000" stroke="#000" stroke-width="0.15">10<tspan dy="-5.0" font-size="6.4">3</tspan></text>
<text x="627.5" y="386.8" font-family="Liberation Sans, sans-serif" font-size="9.4" fill="#000" stroke="#000" stroke-width="0.15">10<tspan dy="-5.0" font-size="6.4">4</tspan></text>
<text x="657.7" y="386.8" font-family="Liberation Sans, sans-serif" font-size="9.4" fill="#000" stroke="#000" stroke-width="0.15">10<tspan dy="-5.0" font-size="6.4">5</tspan></text>
<text x="594.15" y="397.8" font-family="Liberation Sans, sans-serif" font-size="9.3" text-anchor="middle" fill="#000" stroke="#000" stroke-width="0.18"><tspan font-style="italic">&#964;</tspan> / s</text>
<text transform="translate(476 289.9) rotate(-90)" font-family="Liberation Sans, sans-serif" font-size="9.2" text-anchor="middle" fill="#000" stroke="#000" stroke-width="0.18"><tspan font-style="italic">&#963;</tspan><tspan font-size="6.6" dy="2.4" font-style="italic">y</tspan><tspan dy="-2.4"> / (Hz/Hz)</tspan></text>
<text x="469.8" y="213.1" font-family="Liberation Sans, sans-serif" font-size="13.2" fill="#000" stroke="#000" stroke-width="0.15">(f)</text>
<path d="M513.4 228.3 L522.49 239.2 L531.58 250.1 L540.67 260.7 L549.76 272.1 L558.86 282.9 L567.95 293.15 L577.04 302.8 L586.13 313.5 L595.22 321 L604.31 326.6 L613.4 330.7 L622.49 333.7 L631.58 337 L640.68 341.3 L649.77 346.1 L658.86 350.1 L667.95 355.4" stroke="#ff5cff" stroke-width="0.8" fill="none"/>
<path d="M658.86 347V353M657.26 347h3.2M657.26 353h3.2M667.95 352V358M666.35 352h3.2M666.35 358h3.2" stroke="#ff00ff" stroke-width="0.8" fill="none"/>
<g fill="#ff00ff"><rect x="511.78" y="226.69" width="3.23" height="3.23"/><rect x="520.88" y="237.58" width="3.23" height="3.23"/><rect x="529.97" y="248.48" width="3.23" height="3.23"/><rect x="539.06" y="259.08" width="3.23" height="3.23"/><rect x="548.15" y="270.49" width="3.23" height="3.23"/><rect x="557.24" y="281.28" width="3.23" height="3.23"/><rect x="566.33" y="291.53" width="3.23" height="3.23"/><rect x="575.42" y="301.19" width="3.23" height="3.23"/><rect x="584.51" y="311.88" width="3.23" height="3.23"/><rect x="593.6" y="319.38" width="3.23" height="3.23"/><rect x="602.7" y="324.99" width="3.23" height="3.23"/><rect x="611.79" y="329.08" width="3.23" height="3.23"/><rect x="620.88" y="332.08" width="3.23" height="3.23"/><rect x="629.97" y="335.38" width="3.23" height="3.23"/><rect x="639.06" y="339.69" width="3.23" height="3.23"/><rect x="648.15" y="344.49" width="3.23" height="3.23"/><rect x="657.24" y="348.49" width="3.23" height="3.23"/><rect x="666.33" y="353.78" width="3.23" height="3.23"/></g>
<path d="M513.4 225.3 L522.49 229.9 L531.58 236.7 L540.67 245 L549.76 253.4 L558.86 261 L567.95 268.6 L577.04 276.1 L586.13 283.7 L595.22 291.5 L604.31 298.9 L613.4 307.4 L622.49 313.5 L631.58 321 L640.68 327.1 L649.77 331.4 L658.86 338.2 L667.95 350.1" stroke="#ff4a4a" stroke-width="0.8" fill="none"/>
<path d="M649.77 329V334M648.17 329h3.2M648.17 334h3.2M658.86 334.5V342M657.26 334.5h3.2M657.26 342h3.2M667.95 343.3V356.5M666.35 343.3h3.2M666.35 356.5h3.2" stroke="#ff0000" stroke-width="0.8" fill="none"/>
<g fill="#ff0000"><circle cx="513.4" cy="225.3" r="1.73"/><circle cx="522.49" cy="229.9" r="1.73"/><circle cx="531.58" cy="236.7" r="1.73"/><circle cx="540.67" cy="245" r="1.73"/><circle cx="549.76" cy="253.4" r="1.73"/><circle cx="558.86" cy="261" r="1.73"/><circle cx="567.95" cy="268.6" r="1.73"/><circle cx="577.04" cy="276.1" r="1.73"/><circle cx="586.13" cy="283.7" r="1.73"/><circle cx="595.22" cy="291.5" r="1.73"/><circle cx="604.31" cy="298.9" r="1.73"/><circle cx="613.4" cy="307.4" r="1.73"/><circle cx="622.49" cy="313.5" r="1.73"/><circle cx="631.58" cy="321" r="1.73"/><circle cx="640.68" cy="327.1" r="1.73"/><circle cx="649.77" cy="331.4" r="1.73"/><circle cx="658.86" cy="338.2" r="1.73"/><circle cx="667.95" cy="350.1" r="1.73"/></g>
<rect x="603.1" y="215.4" width="67.3" height="9.6" fill="#fff" stroke="#aaa" stroke-width="0.8"/>
<text x="603.2" y="222.6" font-family="Liberation Sans, sans-serif" font-size="7.5" fill="#000" stroke="#000" stroke-width="0.1">Frequency counting</text>
<text x="554.7" y="253.3" font-family="Liberation Sans, sans-serif" font-size="6.8" fill="#ff0000" stroke="#ff0000" stroke-width="0.16" text-anchor="start">Imperfect reference synchronization</text>
<text x="520.4" y="343.6" font-family="Liberation Sans, sans-serif" font-size="6.85" fill="#ff00ff" stroke="#ff00ff" stroke-width="0.16" text-anchor="start">Imperfect reference synchronization</text>
<text x="520.4" y="351.4" font-family="Liberation Sans, sans-serif" font-size="6.85" fill="#ff00ff" stroke="#ff00ff" stroke-width="0.16" text-anchor="start">(Modified Allan deviation)</text>
</svg></body></html>
